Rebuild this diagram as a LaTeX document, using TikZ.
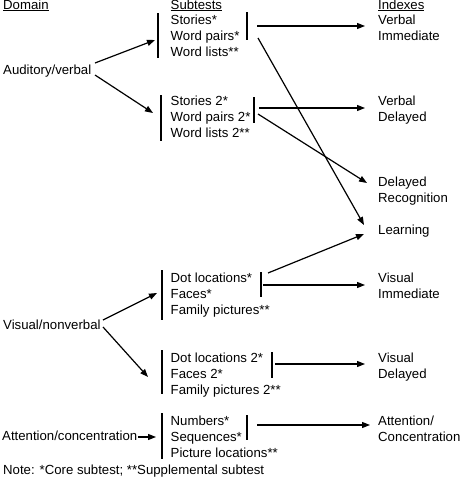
\documentclass[tikz,border=0pt]{standalone}
\usepackage{fontspec}
\setmainfont{Liberation Sans}
\usetikzlibrary{arrows.meta}
\tikzset{
  txt/.style={anchor=base west, inner sep=0pt, font=\fontsize{13.2}{16}\selectfont},
  arr/.style={line width=1.2pt, -{Triangle[length=8pt,width=6pt]}},
  bar/.style={line width=1.3pt}
}
\begin{document}
\begin{tikzpicture}[x=1pt,y=-1pt]
\useasboundingbox (0,0) rectangle (460,477);
% headers
\node[txt] (hdom) at (3,9) {\underline{Domain}};
\node[txt] (hsub) at (170.5,9) {\underline{Subtests}};
\node[txt] (hidx) at (378,9) {\underline{Indexes}};
% domains
\node[txt] (aud) at (3,74) {Auditory/verbal};
\node[txt] (vis) at (3,329) {Visual/nonverbal};
\node[txt] (att) at (2,440) {Attention/concentration};
% subtests
\node[txt] (g1a) at (170.5,24) {Stories*};
\node[txt] (g1b) at (170.5,40) {Word pairs*};
\node[txt] (g1c) at (170.5,56) {Word lists**};
\node[txt] (g2a) at (170.5,105) {Stories 2*};
\node[txt] (g2b) at (170.5,121) {Word pairs 2*};
\node[txt] (g2c) at (170.5,137) {Word lists 2**};
\node[txt] (g3a) at (170.5,282) {Dot locations*};
\node[txt] (g3b) at (170.5,298) {Faces*};
\node[txt] (g3c) at (170.5,314) {Family pictures**};
\node[txt] (g4a) at (170.5,362) {Dot locations 2*};
\node[txt] (g4b) at (170.5,378) {Faces 2*};
\node[txt] (g4c) at (170.5,394) {Family pictures 2**};
\node[txt] (g5a) at (170.5,425) {Numbers*};
\node[txt] (g5b) at (170.5,441) {Sequences*};
\node[txt] (g5c) at (170.5,457) {Picture locations**};
% indexes
\node[txt] (i1a) at (378,24) {Verbal};
\node[txt] (i1b) at (378,40) {Immediate};
\node[txt] (i2a) at (378,105) {Verbal};
\node[txt] (i2b) at (378,121) {Delayed};
\node[txt] (i3a) at (378,186) {Delayed};
\node[txt] (i3b) at (378,202) {Recognition};
\node[txt] (i4) at (378,234) {Learning};
\node[txt] (i5a) at (378,282) {Visual};
\node[txt] (i5b) at (378,298) {Immediate};
\node[txt] (i6a) at (378,362) {Visual};
\node[txt] (i6b) at (378,378) {Delayed};
\node[txt] (i7a) at (378,425) {Attention/};
\node[txt] (i7b) at (378,441) {Concentration};
% note
\node[txt] (note) at (3,474) {Note: *Core subtest; **Supplemental subtest};
% bars
\coordinate (b1lt) at (158,13);  \coordinate (b1lb) at (158,58);
\coordinate (b1rt) at (247,12);  \coordinate (b1rb) at (247,40);
\coordinate (b2lt) at (161,95);  \coordinate (b2lb) at (161,141);
\coordinate (b2rt) at (254,97);  \coordinate (b2rb) at (254,123);
\coordinate (b3lt) at (162,270); \coordinate (b3lb) at (162,320);
\coordinate (b3rt) at (261,272); \coordinate (b3rb) at (261,297);
\coordinate (b4lt) at (162,350); \coordinate (b4lb) at (162,394);
\coordinate (b4rt) at (272,352); \coordinate (b4rb) at (272,378);
\coordinate (b5lt) at (162,413); \coordinate (b5lb) at (162,459);
\coordinate (b5rt) at (247,415); \coordinate (b5rb) at (247,440);
\foreach \n in {1,...,5}{
  \draw[bar] (b\n lt) -- (b\n lb);
  \draw[bar] (b\n rt) -- (b\n rb);
}
% connector end points
\coordinate (audA) at (95,63);   \coordinate (g1in) at (155,40);
\coordinate (audB) at (95,75);   \coordinate (g2in) at (153,113);
\coordinate (g1o1) at (257,26);  \coordinate (i1in) at (365,26);
\coordinate (g1o2) at (258,38);  \coordinate (i4inA) at (364,225);
\coordinate (g2o1) at (259,108); \coordinate (i2in) at (365,108);
\coordinate (g2o2) at (258,114); \coordinate (i3in) at (367,183);
\coordinate (visA) at (103,320); \coordinate (g3in) at (157,293);
\coordinate (visB) at (103,327); \coordinate (g4in) at (148,377);
\coordinate (g3o1) at (268,273); \coordinate (i4inB) at (364,234);
\coordinate (g3o2) at (263,285); \coordinate (i5in) at (365,285);
\coordinate (g4o) at (275,364);  \coordinate (i6in) at (365,364);
\coordinate (attA) at (138,437); \coordinate (g5in) at (156,437);
\coordinate (g5o) at (257,425);  \coordinate (i7in) at (370,425);
% connectors
\draw[arr] (audA) -- (g1in);
\draw[arr] (audB) -- (g2in);
\draw[arr] (g1o1) -- (i1in);
\draw[arr] (g1o2) -- (i4inA);
\draw[arr] (g2o1) -- (i2in);
\draw[arr] (g2o2) -- (i3in);
\draw[arr] (visA) -- (g3in);
\draw[arr] (visB) -- (g4in);
\draw[arr] (g3o1) -- (i4inB);
\draw[arr] (g3o2) -- (i5in);
\draw[arr] (g4o) -- (i6in);
\draw[arr] (attA) -- (g5in);
\draw[arr] (g5o) -- (i7in);
\end{tikzpicture}
\end{document}
